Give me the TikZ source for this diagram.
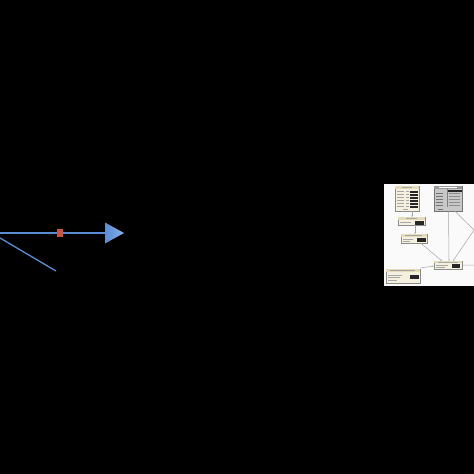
\documentclass[tikz,border=0pt]{standalone}
\usetikzlibrary{arrows.meta,shadings}
\definecolor{shaft}{RGB}{92,140,210}
\definecolor{headc}{RGB}{100,160,235}
\definecolor{redsq}{RGB}{200,85,60}
\definecolor{beige}{RGB}{245,241,222}
\definecolor{beigedark}{RGB}{228,219,186}
\definecolor{greybox}{RGB}{200,200,200}
\definecolor{panelc}{RGB}{250,250,250}
\definecolor{linkc}{RGB}{165,165,165}
\tikzset{
  bnbox/.style={draw=black!45, line width=0.3pt, fill=beige, inner sep=0pt, anchor=north west},
  bngrey/.style={draw=black!55, line width=0.3pt, fill=greybox, inner sep=0pt, anchor=north west},
  bar/.style={fill=black!85},
  txt/.style={draw=black!35, line width=0.25pt},
  link/.style={draw=linkc, line width=0.5pt},
  linka/.style={link, -{Latex[length=1.4pt,width=1.4pt]}}
}
\begin{document}
\begin{tikzpicture}[x=1pt,y=-1pt]
\fill[black] (0,0) rectangle (474,474);
\useasboundingbox (0,0) rectangle (474,474);
% left arrow
\coordinate (s0) at (0,233);
\coordinate (tipbase) at (106,233);
\draw[shaft, line width=1.7pt] (s0) -- (tipbase);
\shade[left color=shaft, right color=headc!80!white] (105,222.5) -- (124,233) -- (105,243.5) -- cycle;
\node[fill=redsq, minimum width=6pt, minimum height=8pt, inner sep=0pt] (red) at (59.5,233) {};
\coordinate (d0) at (0,238);
\coordinate (d1) at (56,271);
\draw[shaft, line width=1.3pt] (d0) -- (d1);
% panel
\fill[panelc] (384,184) rectangle (474,286);
% boxes
\node[bnbox, minimum width=24pt, minimum height=25pt] (b1) at (395,186) {};
\node[bngrey, minimum width=28pt, minimum height=25pt] (b2) at (434,186) {};
\node[bnbox, minimum width=27pt, minimum height=8pt] (b3) at (398,217) {};
\node[bnbox, minimum width=26pt, minimum height=9pt] (b4) at (401,234) {};
\node[bnbox, minimum width=28pt, minimum height=8pt] (b5) at (434,261) {};
\node[bnbox, minimum width=34pt, minimum height=14pt] (b6) at (386,269) {};
\coordinate (rn) at (474,230);
\coordinate (rr) at (474,265);
% box1 details
\fill[beigedark] (395.3,186.3) rectangle (418.7,189);
\draw[txt] (402,187.6) -- (412,187.6);
\foreach \y in {191.5,194.5,197.5,200.5,203.5,206.5}{
  \draw[txt] (397,\y) -- (404,\y);
  \fill[bar] (410,\y-1) rectangle (418,\y+1);
  \draw[txt] (406,\y) -- (408.5,\y);
}
\draw[txt] (403,209) -- (408,209);
% box2 details
\fill[black!40] (434.3,186.3) rectangle (461.7,189);
\draw[white, line width=0.25pt] (439,187.6) -- (457,187.6);
\fill[bar] (447,189.5) rectangle (461.5,191.5);
\draw[black!50, line width=0.25pt] (447,189) -- (447,207);
\foreach \y in {193.5,196.5,199.5,202.5,205.5}{
  \draw[black!55, line width=0.25pt] (436,\y) -- (443,\y);
  \draw[black!45, line width=0.25pt] (449,\y) -- (460,\y);
}
\draw[black!55, line width=0.25pt] (438,209) -- (443,209);
% box3 details
\fill[beigedark] (398.3,217.3) rectangle (424.7,219.5);
\draw[txt] (406,218.4) -- (417,218.4);
\draw[txt] (400,222.5) -- (411,222.5);
\fill[bar] (415,220.5) rectangle (424,224.5);
% box4 details
\fill[beigedark] (401.3,234.3) rectangle (426.7,236.5);
\draw[txt] (405,235.4) -- (422,235.4);
\draw[txt] (403,239) -- (413,239);
\draw[txt] (403,241) -- (410,241);
\fill[bar] (417,238) rectangle (426,241.5);
% box5 details
\fill[beigedark] (434.3,261.3) rectangle (461.7,263.3);
\draw[txt] (438,262.3) -- (458,262.3);
\draw[txt] (436,265.5) -- (448,265.5);
\draw[txt] (436,267.3) -- (445,267.3);
\fill[bar] (452,264.3) rectangle (459.5,267.5);
% box6 details
\fill[beigedark] (386.3,269.3) rectangle (419.7,271.8);
\draw[txt] (390,270.5) -- (415,270.5);
\draw[txt] (388,275) -- (402,275);
\draw[txt] (388,277.5) -- (400,277.5);
\draw[txt] (388,280) -- (397,280);
\fill[bar] (410,275) rectangle (418.5,279);
% links
\draw[linka] (b1.south -| 412,0) -- (b3.north -| 412,0);
\draw[linka] (b3.south -| 415,0) -- (b4.north -| 415,0);
\draw[linka] (b4.south -| 421,0) -- (b5.north -| 442,0);
\draw[linka] (b2.south -| 448.5,0) -- (b5.north -| 449,0);
\draw[link] (b2.south -| 455,0) -- (rn);
\draw[linka] (rn) -- (b5.north -| 453,0);
\draw[link] (b5.east) -- (rr);
\draw[linka] (b6.east |- 0,268) -- (b5.west |- 0,266);
\end{tikzpicture}
\end{document}
